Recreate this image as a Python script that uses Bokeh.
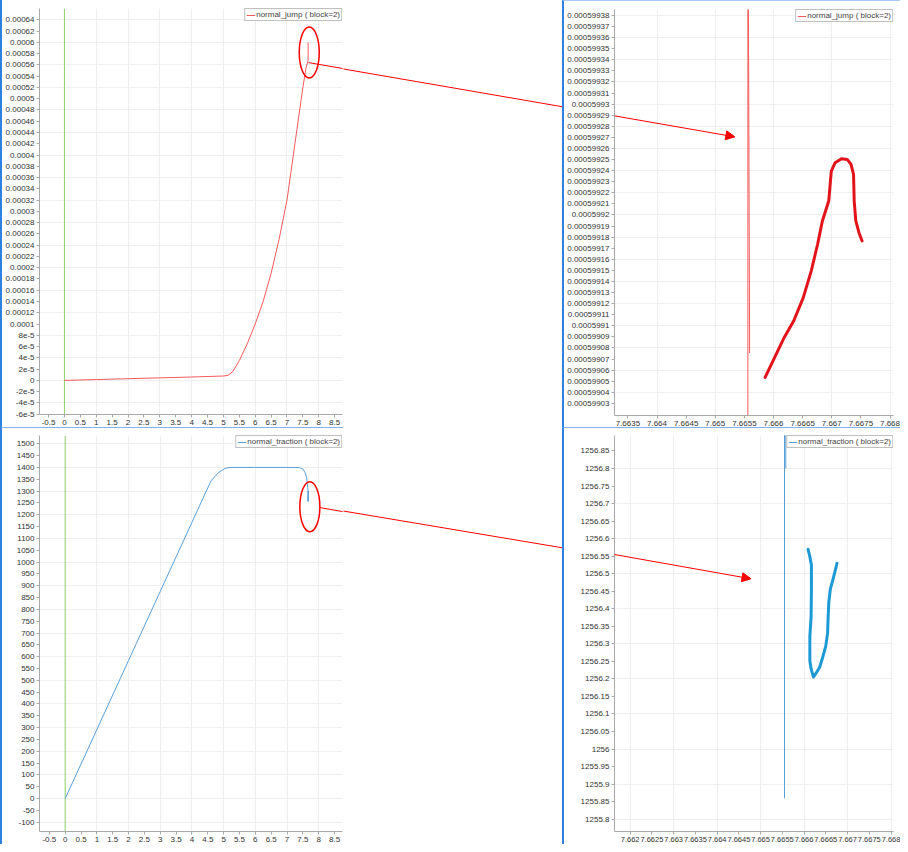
import numpy as np
from bokeh.plotting import figure
from bokeh.models import FixedTicker, Legend, LegendItem, Arrow, NormalHead, Range1d
from bokeh.layouts import row, column
from bokeh.embed import file_html
from bokeh.resources import INLINE

# ---------------- data ----------------
jump_t = [0.0, 1.0, 2.0, 3.0, 4.0, 5.0, 5.15, 5.3, 5.5, 5.75, 6.0, 6.25, 6.5, 6.75,
          7.0, 7.25, 7.5, 7.6, 7.66556, 7.66556, 7.66559]
jump_v = [0.0, 1.5e-6, 3.0e-6, 4.5e-6, 6.0e-6, 7.8e-6, 9.0e-6, 1.6e-5, 3.5e-5, 6.5e-5,
          1.0e-4, 1.4e-4, 1.9e-4, 2.5e-4, 3.2e-4, 4.2e-4, 5.2e-4, 5.55e-4, 5.68e-4,
          5.9953e-4, 5.990755e-4]

trac_t = [0.0, 1.0, 2.0, 3.0, 4.0, 4.6, 4.85, 5.05, 5.2, 6.0, 7.0, 7.4, 7.5, 7.57, 7.62,
          7.66554, 7.66555, 7.66557, 7.66558]
trac_v = [0.0, 292.0, 584.0, 876.0, 1168.0, 1343.0, 1380.0, 1396.0, 1400.0, 1400.0, 1400.0,
          1399.0, 1393.0, 1378.0, 1356.0, 1300.0, 1255.86, 1300.0, 1256.8]

# hand-drawn marks on the zoomed views (data units)
sketch_jump_x = [7.665856, 7.666020, 7.666184, 7.666348, 7.666511, 7.666648, 7.666757,
                 7.666839, 7.666948, 7.666992, 7.667057, 7.667167, 7.667266, 7.667331,
                 7.667374, 7.667385, 7.667413, 7.667467, 7.667521]
sketch_jump_y = [0.0005990535, 0.0005990715, 0.0005990895, 0.0005991046, 0.0005991255,
                 0.0005991496, 0.0005991736, 0.0005991946, 0.0005992126, 0.0005992396,
                 0.0005992471, 0.0005992507, 0.0005992501, 0.0005992456, 0.0005992366,
                 0.0005992126, 0.0005991946, 0.0005991840, 0.0005991766]
sketch_trac_x = [7.666091, 7.666133, 7.666169, 7.666169, 7.666162, 7.666133, 7.666133,
                 7.666162, 7.666217, 7.666289, 7.666358, 7.666427, 7.666499, 7.666541,
                 7.666554, 7.666569, 7.666604, 7.666674, 7.666722, 7.666758]
sketch_trac_y = [1256.5698, 1256.5487, 1256.5253, 1256.4557, 1256.377, 1256.3213, 1256.2518,
                 1256.2287, 1256.2053, 1256.2192, 1256.2331, 1256.261, 1256.2935, 1256.3305,
                 1256.377, 1256.4187, 1256.4557, 1256.4883, 1256.5114, 1256.53]

# circled regions and arrows (data units of the panels they belong to)
jump_ring = (7.70, 0.0005818)
trac_ring = (7.72, 1234.0)
jump_arrow_from = (7.68, 0.000564)        # top-left panel
jump_arrow_to = (7.665336, 0.0005992705)  # top-right panel
trac_arrow_from = (8.045, 1230.0)         # bottom-left panel
trac_arrow_to = (7.664779, 1256.4855)     # bottom-right panel

# ticks
ov_xticks = [round(-0.5 + 0.5 * i, 6) for i in range(19)]
jump_yticks = [round(-6e-5 + 2e-5 * i, 12) for i in range(36)]
trac_yticks = [round(-100 + 50 * i, 6) for i in range(33)]
zj_xticks = [round(7.6635 + 0.0005 * i, 6) for i in range(10)]
zj_yticks = [round(0.00059903 + 1e-8 * i, 14) for i in range(36)]
zt_xticks = [round(7.662 + 0.0005 * i, 6) for i in range(13)]
zt_yticks = [round(1255.8 + 0.05 * i, 6) for i in range(22)]

RED = "#f45a5a"
BLUE = "#5a9fd6"
GREEN = "#8fd36c"
FONT = "Liberation Sans"


def fmt(v):
    v = round(v, 13)
    if v == 0:
        return "0"
    if abs(v) < 1e-4:
        m, e = f"{v:.0e}".split("e")
        return f"{m}e{int(e)}"
    return f"{v:.10g}"


def make(width, height, xr, yr, xt, yt, xg, yg, left, top, right=3, bottom=14, xfs="8px"):
    p = figure(width=width, height=height, x_range=Range1d(*xr), y_range=Range1d(*yr),
               toolbar_location=None, output_backend="svg",
               min_border_left=left, min_border_right=right, min_border_top=top,
               min_border_bottom=bottom)
    p.outline_line_color = None
    p.background_fill_color = "white"
    p.border_fill_color = "white"
    for ax, ticks, fs in ((p.xaxis, xt, xfs), (p.yaxis, yt, "8px")):
        ax.ticker = FixedTicker(ticks=ticks)
        ax.major_label_overrides = {t: fmt(t) for t in ticks}
        ax.axis_line_color = "#a9a9a9"
        ax.major_tick_line_color = "#a9a9a9"
        ax.major_tick_out = 3
        ax.major_tick_in = 0
        ax.minor_tick_line_color = None
        ax.major_label_text_font = FONT
        ax.major_label_text_font_size = fs
        ax.major_label_text_color = "#333333"
        ax.major_label_standoff = 2
    p.xgrid.ticker = FixedTicker(ticks=xg)
    p.ygrid.ticker = FixedTicker(ticks=yg)
    p.grid.grid_line_color = "#efefef"
    return p


def legend(p, r, label):
    lg = Legend(items=[LegendItem(label=label, renderers=[r])], location="top_right",
                label_text_font=FONT, label_text_font_size="8px", label_height=8,
                glyph_height=8, glyph_width=9, padding=1, margin=0, spacing=0,
                label_standoff=1, border_line_color="#808080", border_line_width=1,
                background_fill_color="white", background_fill_alpha=1.0)
    p.add_layout(lg)


# ---------------- panels ----------------
TOP_H, BOT_H = 427, 417
L_W, M_W, R_W = 343, 219, 338
TL_B = (36, 8, 3, 13)     # left, top, right, bottom borders
BL_B = (25, 7, 3, 14)
TR_B = (47, 8, 9, 13)
BR_B = (34, 7, 9, 14)

tl_xr, tl_yr = (-0.784, 8.746), (-6.05e-5, 6.6e-4)
tl = make(L_W, TOP_H, tl_xr, tl_yr, ov_xticks, jump_yticks,
          list(range(0, 9)), [round(-4e-5 + 4e-5 * i, 12) for i in range(18)],
          left=TL_B[0], top=TL_B[1], right=TL_B[2], bottom=TL_B[3])
tl.line([0, 0], [tl_yr[0], tl_yr[1]], color=GREEN, line_width=1)
r = tl.line(jump_t, jump_v, color=RED, line_width=1)
legend(tl, r, "normal_jump ( block=2)")
tl.ellipse(x=[jump_ring[0]], y=[jump_ring[1]], width=20, height=51, width_units="screen",
           height_units="screen", fill_color=None, line_color="#ff0000", line_width=1.5)

tr_xr, tr_yr = (7.66327, 7.66806), (0.0005990191, 0.0005993854)
tr = make(R_W, TOP_H, tr_xr, tr_yr, zj_xticks, zj_yticks,
          [round(7.664 + 0.001 * i, 6) for i in range(5)],
          [round(0.00059904 + 2e-8 * i, 14) for i in range(18)],
          left=TR_B[0], top=TR_B[1], right=TR_B[2], bottom=TR_B[3])
r = tr.line(jump_t, jump_v, color=RED, line_width=1)
legend(tr, r, "normal_jump ( block=2)")
tr.line(sketch_jump_x, sketch_jump_y, color="#e3131b", line_width=3, line_cap="round",
        line_join="round")

bl_xr, bl_yr = (-0.81, 8.75), (-139.0, 1535.0)
bl = make(L_W, BOT_H, bl_xr, bl_yr, ov_xticks, trac_yticks,
          list(range(0, 9)), [round(-100 + 100 * i, 6) for i in range(17)],
          left=BL_B[0], top=BL_B[1], right=BL_B[2], bottom=BL_B[3])
bl.line([0, 0], [bl_yr[0], bl_yr[1]], color=GREEN, line_width=1)
r = bl.line(trac_t, trac_v, color=BLUE, line_width=1)
legend(bl, r, "normal_traction ( block=2)")
bl.ellipse(x=[trac_ring[0]], y=[trac_ring[1]], width=20, height=50, width_units="screen",
           height_units="screen", fill_color=None, line_color="#ff0000", line_width=1.5)

br_xr, br_yr = (7.66164, 7.668057), (1255.765, 1256.894)
br = make(R_W, BOT_H, br_xr, br_yr, zt_xticks, zt_yticks,
          [round(7.662 + 0.001 * i, 6) for i in range(7)],
          [round(1255.8 + 0.1 * i, 6) for i in range(11)],
          left=BR_B[0], top=BR_B[1], right=BR_B[2], bottom=BR_B[3], xfs="7.5px")
r = br.line(trac_t, trac_v, color=BLUE, line_width=1)
legend(br, r, "normal_traction ( block=2)")
br.line(sketch_trac_x, sketch_trac_y, color="#1d9ad6", line_width=3, line_cap="round",
        line_join="round")

# ---------------- arrows across the gap ----------------
def frame_box(b, w, h):
    return (b[0], b[1], w - b[2], h - b[3])


frames = {
    "tl": (frame_box(TL_B, L_W, TOP_H), tl_xr, tl_yr, (0, 0)),
    "tr": (frame_box(TR_B, R_W, TOP_H), tr_xr, tr_yr, (L_W + M_W, 0)),
    "bl": (frame_box(BL_B, L_W, BOT_H), bl_xr, bl_yr, (0, TOP_H)),
    "br": (frame_box(BR_B, R_W, BOT_H), br_xr, br_yr, (L_W + M_W, TOP_H)),
}


def to_page(key, x, y):
    (x0, y0, x1, y1), xr, yr, (ox, oy) = frames[key]
    px = ox + x0 + (x - xr[0]) / (xr[1] - xr[0]) * (x1 - x0)
    py = oy + y1 - (y - yr[0]) / (yr[1] - yr[0]) * (y1 - y0)
    return px, py


def to_data(key, px, py):
    (x0, y0, x1, y1), xr, yr, (ox, oy) = frames[key]
    x = xr[0] + (px - ox - x0) / (x1 - x0) * (xr[1] - xr[0])
    y = yr[0] + (oy + y1 - py) / (y1 - y0) * (yr[1] - yr[0])
    return x, y


mid = figure(width=M_W, height=TOP_H + BOT_H, x_range=Range1d(0, M_W),
             y_range=Range1d(TOP_H + BOT_H, 0), toolbar_location=None, output_backend="svg",
             min_border=0)
mid.axis.visible = False
mid.grid.visible = False
mid.outline_line_color = None

panels = {"tl": tl, "tr": tr, "bl": bl, "br": br}
for src, dst, start, end in (("tl", "tr", jump_arrow_from, jump_arrow_to),
                             ("bl", "br", trac_arrow_from, trac_arrow_to)):
    p0 = to_page(src, *start)
    p1 = to_page(dst, *end)
    far = to_data(src, *p1)
    panels[src].line([start[0], far[0]], [start[1], far[1]], color="#ff0000", line_width=1)
    mid.line([p0[0] - L_W, p1[0] - L_W], [p0[1], p1[1]], color="#ff0000", line_width=1)
    back = to_data(dst, *p0)
    panels[dst].add_layout(Arrow(end=NormalHead(size=9, fill_color="#ff0000",
                                                line_color="#ff0000"),
                                 x_start=back[0], y_start=back[1], x_end=end[0], y_end=end[1],
                                 line_color="#ff0000", line_width=1))

tl.styles = {"border-left": "2px solid #2f80e0"}
bl.styles = {"border-left": "2px solid #2f80e0", "border-top": "1px solid #7fb2ee"}
tr.styles = {"border-left": "2px solid #2f80e0", "border-top": "1px solid #a9cbf2"}
br.styles = {"border-left": "2px solid #2f80e0", "border-top": "1px solid #7fb2ee"}

layout = row(column(tl, bl), mid, column(tr, br))
open("out.html", "w").write(file_html(layout, INLINE))
